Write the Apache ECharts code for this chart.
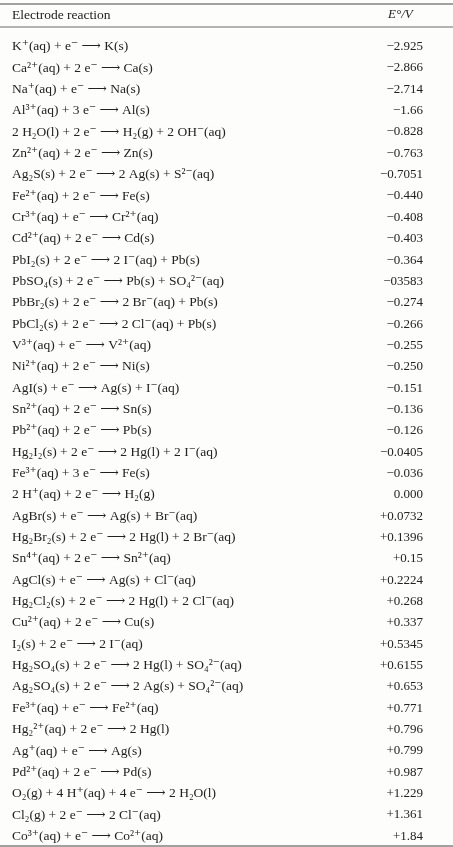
<!DOCTYPE html>
<html>
<head>
<meta charset="utf-8">
<script src="https://cdn.jsdelivr.net/npm/echarts@6/dist/echarts.min.js"></script>
<style>html,body{margin:0;padding:0;background:#fdfdfb}#main{width:453px;height:847px}</style>
</head>
<body>
<div id="main"></div>
<script>
const reactions = [
  'K⁺(aq) + e⁻ ⟶ K(s)',
  'Ca²⁺(aq) + 2 e⁻ ⟶ Ca(s)',
  'Na⁺(aq) + e⁻ ⟶ Na(s)',
  'Al³⁺(aq) + 3 e⁻ ⟶ Al(s)',
  '2 H₂O(l) + 2 e⁻ ⟶ H₂(g) + 2 OH⁻(aq)',
  'Zn²⁺(aq) + 2 e⁻ ⟶ Zn(s)',
  'Ag₂S(s) + 2 e⁻ ⟶ 2 Ag(s) + S²⁻(aq)',
  'Fe²⁺(aq) + 2 e⁻ ⟶ Fe(s)',
  'Cr³⁺(aq) + e⁻ ⟶ Cr²⁺(aq)',
  'Cd²⁺(aq) + 2 e⁻ ⟶ Cd(s)',
  'PbI₂(s) + 2 e⁻ ⟶ 2 I⁻(aq) + Pb(s)',
  'PbSO₄(s) + 2 e⁻ ⟶ Pb(s) + SO₄²⁻(aq)',
  'PbBr₂(s) + 2 e⁻ ⟶ 2 Br⁻(aq) + Pb(s)',
  'PbCl₂(s) + 2 e⁻ ⟶ 2 Cl⁻(aq) + Pb(s)',
  'V³⁺(aq) + e⁻ ⟶ V²⁺(aq)',
  'Ni²⁺(aq) + 2 e⁻ ⟶ Ni(s)',
  'AgI(s) + e⁻ ⟶ Ag(s) + I⁻(aq)',
  'Sn²⁺(aq) + 2 e⁻ ⟶ Sn(s)',
  'Pb²⁺(aq) + 2 e⁻ ⟶ Pb(s)',
  'Hg₂I₂(s) + 2 e⁻ ⟶ 2 Hg(l) + 2 I⁻(aq)',
  'Fe³⁺(aq) + 3 e⁻ ⟶ Fe(s)',
  '2 H⁺(aq) + 2 e⁻ ⟶ H₂(g)',
  'AgBr(s) + e⁻ ⟶ Ag(s) + Br⁻(aq)',
  'Hg₂Br₂(s) + 2 e⁻ ⟶ 2 Hg(l) + 2 Br⁻(aq)',
  'Sn⁴⁺(aq) + 2 e⁻ ⟶ Sn²⁺(aq)',
  'AgCl(s) + e⁻ ⟶ Ag(s) + Cl⁻(aq)',
  'Hg₂Cl₂(s) + 2 e⁻ ⟶ 2 Hg(l) + 2 Cl⁻(aq)',
  'Cu²⁺(aq) + 2 e⁻ ⟶ Cu(s)',
  'I₂(s) + 2 e⁻ ⟶ 2 I⁻(aq)',
  'Hg₂SO₄(s) + 2 e⁻ ⟶ 2 Hg(l) + SO₄²⁻(aq)',
  'Ag₂SO₄(s) + 2 e⁻ ⟶ 2 Ag(s) + SO₄²⁻(aq)',
  'Fe³⁺(aq) + e⁻ ⟶ Fe²⁺(aq)',
  'Hg₂²⁺(aq) + 2 e⁻ ⟶ 2 Hg(l)',
  'Ag⁺(aq) + e⁻ ⟶ Ag(s)',
  'Pd²⁺(aq) + 2 e⁻ ⟶ Pd(s)',
  'O₂(g) + 4 H⁺(aq) + 4 e⁻ ⟶ 2 H₂O(l)',
  'Cl₂(g) + 2 e⁻ ⟶ 2 Cl⁻(aq)',
  'Co³⁺(aq) + e⁻ ⟶ Co²⁺(aq)'
];
const potentials = [
  '−2.925', '−2.866', '−2.714', '−1.66', '−0.828', '−0.763', '−0.7051', '−0.440',
  '−0.408', '−0.403', '−0.364', '−03583', '−0.274', '−0.266', '−0.255', '−0.250',
  '−0.151', '−0.136', '−0.126', '−0.0405', '−0.036', '0.000', '+0.0732', '+0.1396',
  '+0.15', '+0.2224', '+0.268', '+0.337', '+0.5345', '+0.6155', '+0.653', '+0.771',
  '+0.796', '+0.799', '+0.987', '+1.229', '+1.361', '+1.84'
];
const headers = ['Electrode reaction', 'E°/V'];

const font = '"Liberation Serif", "DejaVu Serif", serif';
const ink = '#222';
const chart = echarts.init(document.getElementById('main'));

chart.setOption({
  backgroundColor: '#fdfdfb',
  animation: false,
  grid: { left: 12, right: 30, top: 36, bottom: 0 },
  xAxis: { type: 'value', show: false, min: 0, max: 1 },
  yAxis: [
    {
      type: 'category', data: reactions, inverse: true, position: 'left',
      axisLine: { show: false }, axisTick: { show: false },
      axisLabel: { inside: true, margin: 0, align: 'left', color: ink, fontFamily: font, fontSize: 13.5, interval: 0 }
    },
    {
      type: 'category', data: potentials, inverse: true, position: 'right',
      axisLine: { show: false }, axisTick: { show: false },
      axisLabel: { inside: true, margin: 0, align: 'right', color: ink, fontFamily: font, fontSize: 13, interval: 0 }
    }
  ],
  series: [
    { type: 'scatter', yAxisIndex: 0, data: reactions.map(r => [0, r]), symbolSize: 0, silent: true },
    { type: 'scatter', yAxisIndex: 1, data: potentials.map(p => [0, p]), symbolSize: 0, silent: true }
  ],
  graphic: [
    { type: 'line', shape: { x1: 0, y1: 4, x2: 453, y2: 4 }, style: { stroke: '#444', lineWidth: 1 } },
    { type: 'line', shape: { x1: 0, y1: 27, x2: 453, y2: 27 }, style: { stroke: '#444', lineWidth: 0.8 } },
    { type: 'line', shape: { x1: 0, y1: 846, x2: 453, y2: 846 }, style: { stroke: '#444', lineWidth: 1 } },
    { type: 'text', left: 12, top: 8, style: { text: headers[0], fill: ink, font: '13.5px ' + font } },
    { type: 'text', left: 388, top: 8, style: { text: headers[1], fill: ink, font: 'italic 13px ' + font } }
  ]
});
</script>
</body>
</html>
